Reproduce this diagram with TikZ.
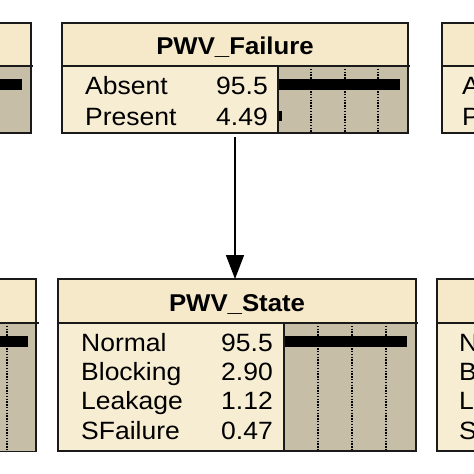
\documentclass[tikz,border=0pt]{standalone}
\usepackage{fontspec}
\setmainfont{Liberation Sans}[FakeStretch=1.06]
\usetikzlibrary{arrows.meta}
\definecolor{hdr}{HTML}{F5E9C9}
\definecolor{bodyc}{HTML}{F7EDD3}
\definecolor{barbg}{HTML}{C7BEA7}
\definecolor{edge}{HTML}{1A1A1A}
\tikzset{
  outline/.style={draw=edge, line width=1.5pt, inner sep=0pt, outer sep=0pt, fill=none},
  sepline/.style={draw=edge, line width=1.5pt},
  gridline/.style={draw=black, line width=1.1pt, dash pattern=on 1.4pt off 1.4pt},
  bar/.style={fill=black},
  lbl/.style={anchor=base west, inner sep=0pt, font=\fontsize{25}{28}\selectfont},
  val/.style={anchor=base east, inner sep=0pt, font=\fontsize{25}{28}\selectfont},
  ttl/.style={anchor=base, inner sep=0pt, font=\fontsize{24.3}{28}\selectfont\bfseries},
  link/.style={draw=black, line width=1.5pt, -{Triangle[width=18pt,length=24pt]}}
}
\begin{document}
\begin{tikzpicture}[x=1pt,y=-1pt]
\useasboundingbox (0,0) rectangle (474,474);
\fill[white] (0,0) rectangle (474,474);
\begin{scope}
\clip (0,0) rectangle (474,474);
% ---------- top left partial box
\fill[hdr] (-10,23) rectangle (31,66);
\fill[barbg] (-10,66) rectangle (31,133);
\fill[bar] (-10,79) rectangle (22,90);
\node[outline, minimum width=41pt, minimum height=110pt] (tl) at (10.5,78) {};
\draw[sepline] (-10,66) -- (32.5,66);
% ---------- top middle box
\fill[hdr] (62,23) rectangle (408,66);
\fill[bodyc] (62,66) rectangle (278,133);
\fill[barbg] (278,66) rectangle (408,133);
\foreach \x in {311,345,378} \draw[gridline] (\x,66) -- (\x,133);
\fill[bar] (278,79) rectangle (400,90);
\fill[bar] (278,111) rectangle (281.5,121);
\draw[sepline] (278,66) -- (278,133);
\draw[sepline] (62,66) -- (410,66);
\node[outline, minimum width=346pt, minimum height=110pt] (fail) at (235,78) {};
\node[ttl] (failt) at (235,54) {PWV\_Failure};
\node[lbl] (fa1) at (85,94) {Absent};
\node[val] (fv1) at (268,94) {95.5};
\node[lbl] (fa2) at (85,125) {Present};
\node[val] (fv2) at (268,125) {4.49};
% ---------- top right partial box
\fill[hdr] (442,23) rectangle (484,66);
\fill[bodyc] (442,66) rectangle (484,133);
\draw[sepline] (442,66) -- (484,66);
\node[outline, minimum width=42pt, minimum height=110pt] (tr) at (463,78) {};
\node[lbl] (tra1) at (462,94) {Absent};
\node[lbl] (tra2) at (462,125) {Present};
% ---------- bottom left partial box
\fill[hdr] (-10,279) rectangle (36,323);
\fill[barbg] (-10,323) rectangle (36,451.5);
\draw[gridline] (7,323) -- (7,451.5);
\fill[bar] (-10,336) rectangle (28,347);
\node[outline, minimum width=46pt, minimum height=172.5pt] (bl) at (13,365.25) {};
\draw[sepline] (-10,323) -- (39,323);
% ---------- bottom middle box
\fill[hdr] (58,279) rectangle (416,323);
\fill[bodyc] (58,323) rectangle (284,451);
\fill[barbg] (284,323) rectangle (416,451);
\foreach \x in {318,352,386} \draw[gridline] (\x,323) -- (\x,451);
\fill[bar] (284,336) rectangle (407,347);
\draw[sepline] (284,323) -- (284,451);
\draw[sepline] (58,323) -- (418,323);
\node[outline, minimum width=358pt, minimum height=172pt] (state) at (237,365) {};
\node[ttl] (statet) at (237,311) {PWV\_State};
\node[lbl] (s1) at (81,351) {Normal};
\node[val] (sv1) at (273,351) {95.5};
\node[lbl] (s2) at (81,380) {Blocking};
\node[val] (sv2) at (273,380) {2.90};
\node[lbl] (s3) at (81,409.5) {Leakage};
\node[val] (sv3) at (273,409.5) {1.12};
\node[lbl] (s4) at (81,439) {SFailure};
\node[val] (sv4) at (273,439) {0.47};
% ---------- bottom right partial box
\fill[hdr] (437,279) rectangle (484,323);
\fill[bodyc] (437,323) rectangle (484,451);
\draw[sepline] (437,323) -- (484,323);
\node[outline, minimum width=47pt, minimum height=172pt] (br) at (460.5,365) {};
\node[lbl] (br1) at (459,351) {Normal};
\node[lbl] (br2) at (459,380) {Blocking};
\node[lbl] (br3) at (459,409.5) {Leakage};
\node[lbl] (br4) at (459,439) {SFailure};
\end{scope}
% ---------- arrow
\draw[link] ([yshift=-4pt]fail.south -| failt.base) -- (state.north -| failt.base);
\end{tikzpicture}
\end{document}
